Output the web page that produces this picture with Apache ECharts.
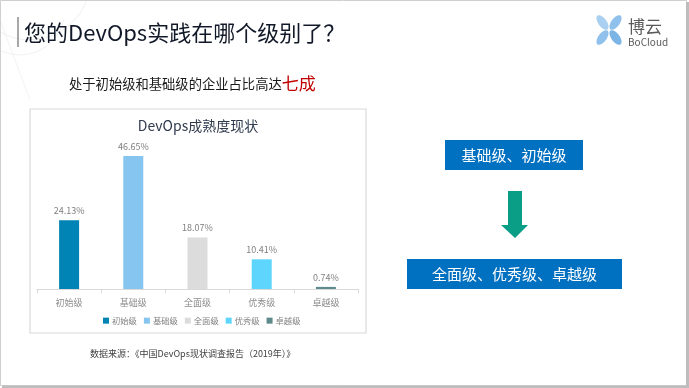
<!DOCTYPE html>
<html>
<head>
<meta charset="utf-8">
<script src="https://cdn.jsdelivr.net/npm/echarts@6/dist/echarts.min.js"></script>
<style>
html,body{margin:0;padding:0;background:#fff;}
#c{width:689px;height:388px;}
</style>
</head>
<body>
<div id="c"></div>
<script>
// ---- data ----
var categories = ['初始级', '基础级', '全面级', '优秀级', '卓越级'];
var values = [24.13, 46.65, 18.07, 10.41, 0.74];
var colors = ['#0083b5', '#85c5ef', '#dcdcdc', '#5dd5fd', '#5e8a8c'];
var yMax = 50;

var chartTitle = 'DevOps成熟度现状';
var pageTitle = '您的DevOps实践在哪个级别了？';
var subTitleMain = '处于初始级和基础级的企业占比高达';
var subTitleEm = '七成';
var boxTop = '基础级、初始级';
var boxBottom = '全面级、优秀级、卓越级';
var sourceText = '数据来源：《中国DevOps现状调查报告（2019年）》';

var CJK = '"Noto Sans CJK SC", "Microsoft YaHei", sans-serif';

var series = categories.map(function (name, i) {
  return {
    name: name,
    type: 'bar',
    stack: 'all',
    barWidth: 20,
    itemStyle: { color: colors[i] },
    label: {
      show: true,
      position: 'top',
      distance: 5,
      color: '#7f7f7f',
      fontSize: 9,
      fontFamily: CJK,
      formatter: function (p) { return p.value.toFixed(2) + '%'; }
    },
    data: categories.map(function (c, j) { return j === i ? values[j] : '-'; })
  };
});

var petals = [];
var lc = [609, 30];
[[-1, -1], [1, -1], [-1, 1], [1, 1]].forEach(function (d, k) {
  petals.push({
    type: 'ellipse',
    x: lc[0] + d[0] * 6.5,
    y: lc[1] + d[1] * 7.5,
    rotation: (d[0] * d[1] > 0 ? -1 : 1) * Math.PI / 4 * 1.2,
    shape: { cx: 0, cy: 0, rx: 8.5, ry: 4.2 },
    style: { fill: k === 3 ? '#7bb5e6' : (k === 0 ? '#a9d0f1' : '#8fc1ec') },
    z: 10
  });
});

var graphics = [
  // slide frame
  { type: 'rect', shape: { x: 0.5, y: 0.5, width: 686, height: 385 }, style: { fill: 'none', stroke: '#cfcfcf', lineWidth: 1 }, z: 1 },
  { type: 'rect', shape: { x: 686, y: 2, width: 3, height: 386 }, style: { fill: '#bdbdbd' }, z: 1 },
  { type: 'rect', shape: { x: 2, y: 385.5, width: 687, height: 2.5 }, style: { fill: '#bdbdbd' }, z: 1 },
  // faint decorative arcs
  { type: 'arc', shape: { cx: 30, cy: -20, r: 60, startAngle: 0.3, endAngle: 2.2 }, style: { stroke: '#f0f0f0', fill: 'none', lineWidth: 1 }, z: 0 },
  { type: 'arc', shape: { cx: 20, cy: 10, r: 45, startAngle: 0.2, endAngle: 2.6 }, style: { stroke: '#f2f2f2', fill: 'none', lineWidth: 1 }, z: 0 },
  { type: 'line', shape: { x1: 0, y1: 20, x2: 30, y2: 100 }, style: { stroke: '#f2f2f2', lineWidth: 1 }, z: 0 },
  // title bar
  { type: 'rect', shape: { x: 17.5, y: 17, width: 1, height: 30 }, style: { fill: '#555555' }, z: 5 },
  { type: 'text', x: 24, y: 33, style: { text: pageTitle, font: '22px ' + CJK, fill: '#111827', textAlign: 'left', textVerticalAlign: 'middle' }, z: 5 },
  // logo
  { type: 'text', x: 628, y: 27, style: { text: '博云', font: '17px ' + CJK, fill: '#5a5a5a', textAlign: 'left', textVerticalAlign: 'middle' }, z: 10 },
  { type: 'text', x: 628, y: 42, style: { text: 'BoCloud', font: '10px ' + CJK, fill: '#5a5a5a', textAlign: 'left', textVerticalAlign: 'middle' }, z: 10 },
  // subtitle
  { type: 'text', x: 69, y: 84, style: {
      text: '{a|' + subTitleMain + '}{b|' + subTitleEm + '}',
      textAlign: 'left', textVerticalAlign: 'middle',
      rich: {
        a: { fontSize: 13.3, fontFamily: CJK, fill: '#1a1a1a', color: '#1a1a1a' },
        b: { fontSize: 17, fontFamily: CJK, fill: '#c00000', color: '#c00000' }
      }
    }, z: 5 },
  // chart box
  { type: 'rect', shape: { x: 30, y: 109, width: 336, height: 224 }, style: { fill: 'none', stroke: '#d9d9d9', lineWidth: 1.2 }, z: 2 },
  // source
  { type: 'text', x: 90, y: 354, style: { text: sourceText, font: '9px ' + CJK, fill: '#404040', textAlign: 'left', textVerticalAlign: 'middle' }, z: 5 },
  // right boxes
  { type: 'rect', shape: { x: 445, y: 140, width: 138, height: 30 }, style: { fill: '#0070c0' }, z: 5 },
  { type: 'text', x: 514, y: 155, style: { text: boxTop, font: '15px ' + CJK, fill: '#ffffff', textAlign: 'center', textVerticalAlign: 'middle' }, z: 6 },
  { type: 'rect', shape: { x: 407, y: 259, width: 215, height: 30 }, style: { fill: '#0070c0' }, z: 5 },
  { type: 'text', x: 514.5, y: 274, style: { text: boxBottom, font: '15px ' + CJK, fill: '#ffffff', textAlign: 'center', textVerticalAlign: 'middle' }, z: 6 },
  // arrow
  { type: 'polygon', shape: { points: [[508, 191], [522, 191], [522, 225], [528, 225], [515, 238], [501, 225], [508, 225]] }, style: { fill: '#0a9e86' }, z: 5 }
].concat(petals);

var chart = echarts.init(document.getElementById('c'), null, { renderer: 'canvas' });
chart.setOption({
  backgroundColor: '#ffffff',
  animation: false,
  title: {
    text: chartTitle,
    left: 198,
    top: 119,
    padding: 0,
    textAlign: 'center',
    textStyle: { fontSize: 14, fontWeight: 'normal', color: '#2f3a4e', fontFamily: CJK }
  },
  legend: {
    data: categories,
    left: 103,
    top: 316.5,
    padding: 0,
    icon: 'rect',
    itemWidth: 6,
    itemHeight: 6,
    itemGap: 7,
    textStyle: { color: '#7f7f7f', fontSize: 8.3, fontFamily: CJK, padding: [0, 0, 0, -2] }
  },
  grid: { left: 37, right: 331, top: 146.4, bottom: 99, containLabel: false },
  xAxis: {
    type: 'category',
    data: categories,
    axisLine: { lineStyle: { color: '#d9d9d9', width: 1 } },
    axisTick: { show: true, length: 4, lineStyle: { color: '#d9d9d9' } },
    axisLabel: { color: '#8c8c8c', fontSize: 9, fontFamily: CJK, margin: 9 }
  },
  yAxis: {
    type: 'value',
    min: 0,
    max: yMax,
    show: false,
    splitLine: { show: false }
  },
  series: series,
  graphic: { elements: graphics }
});
</script>
</body>
</html>
